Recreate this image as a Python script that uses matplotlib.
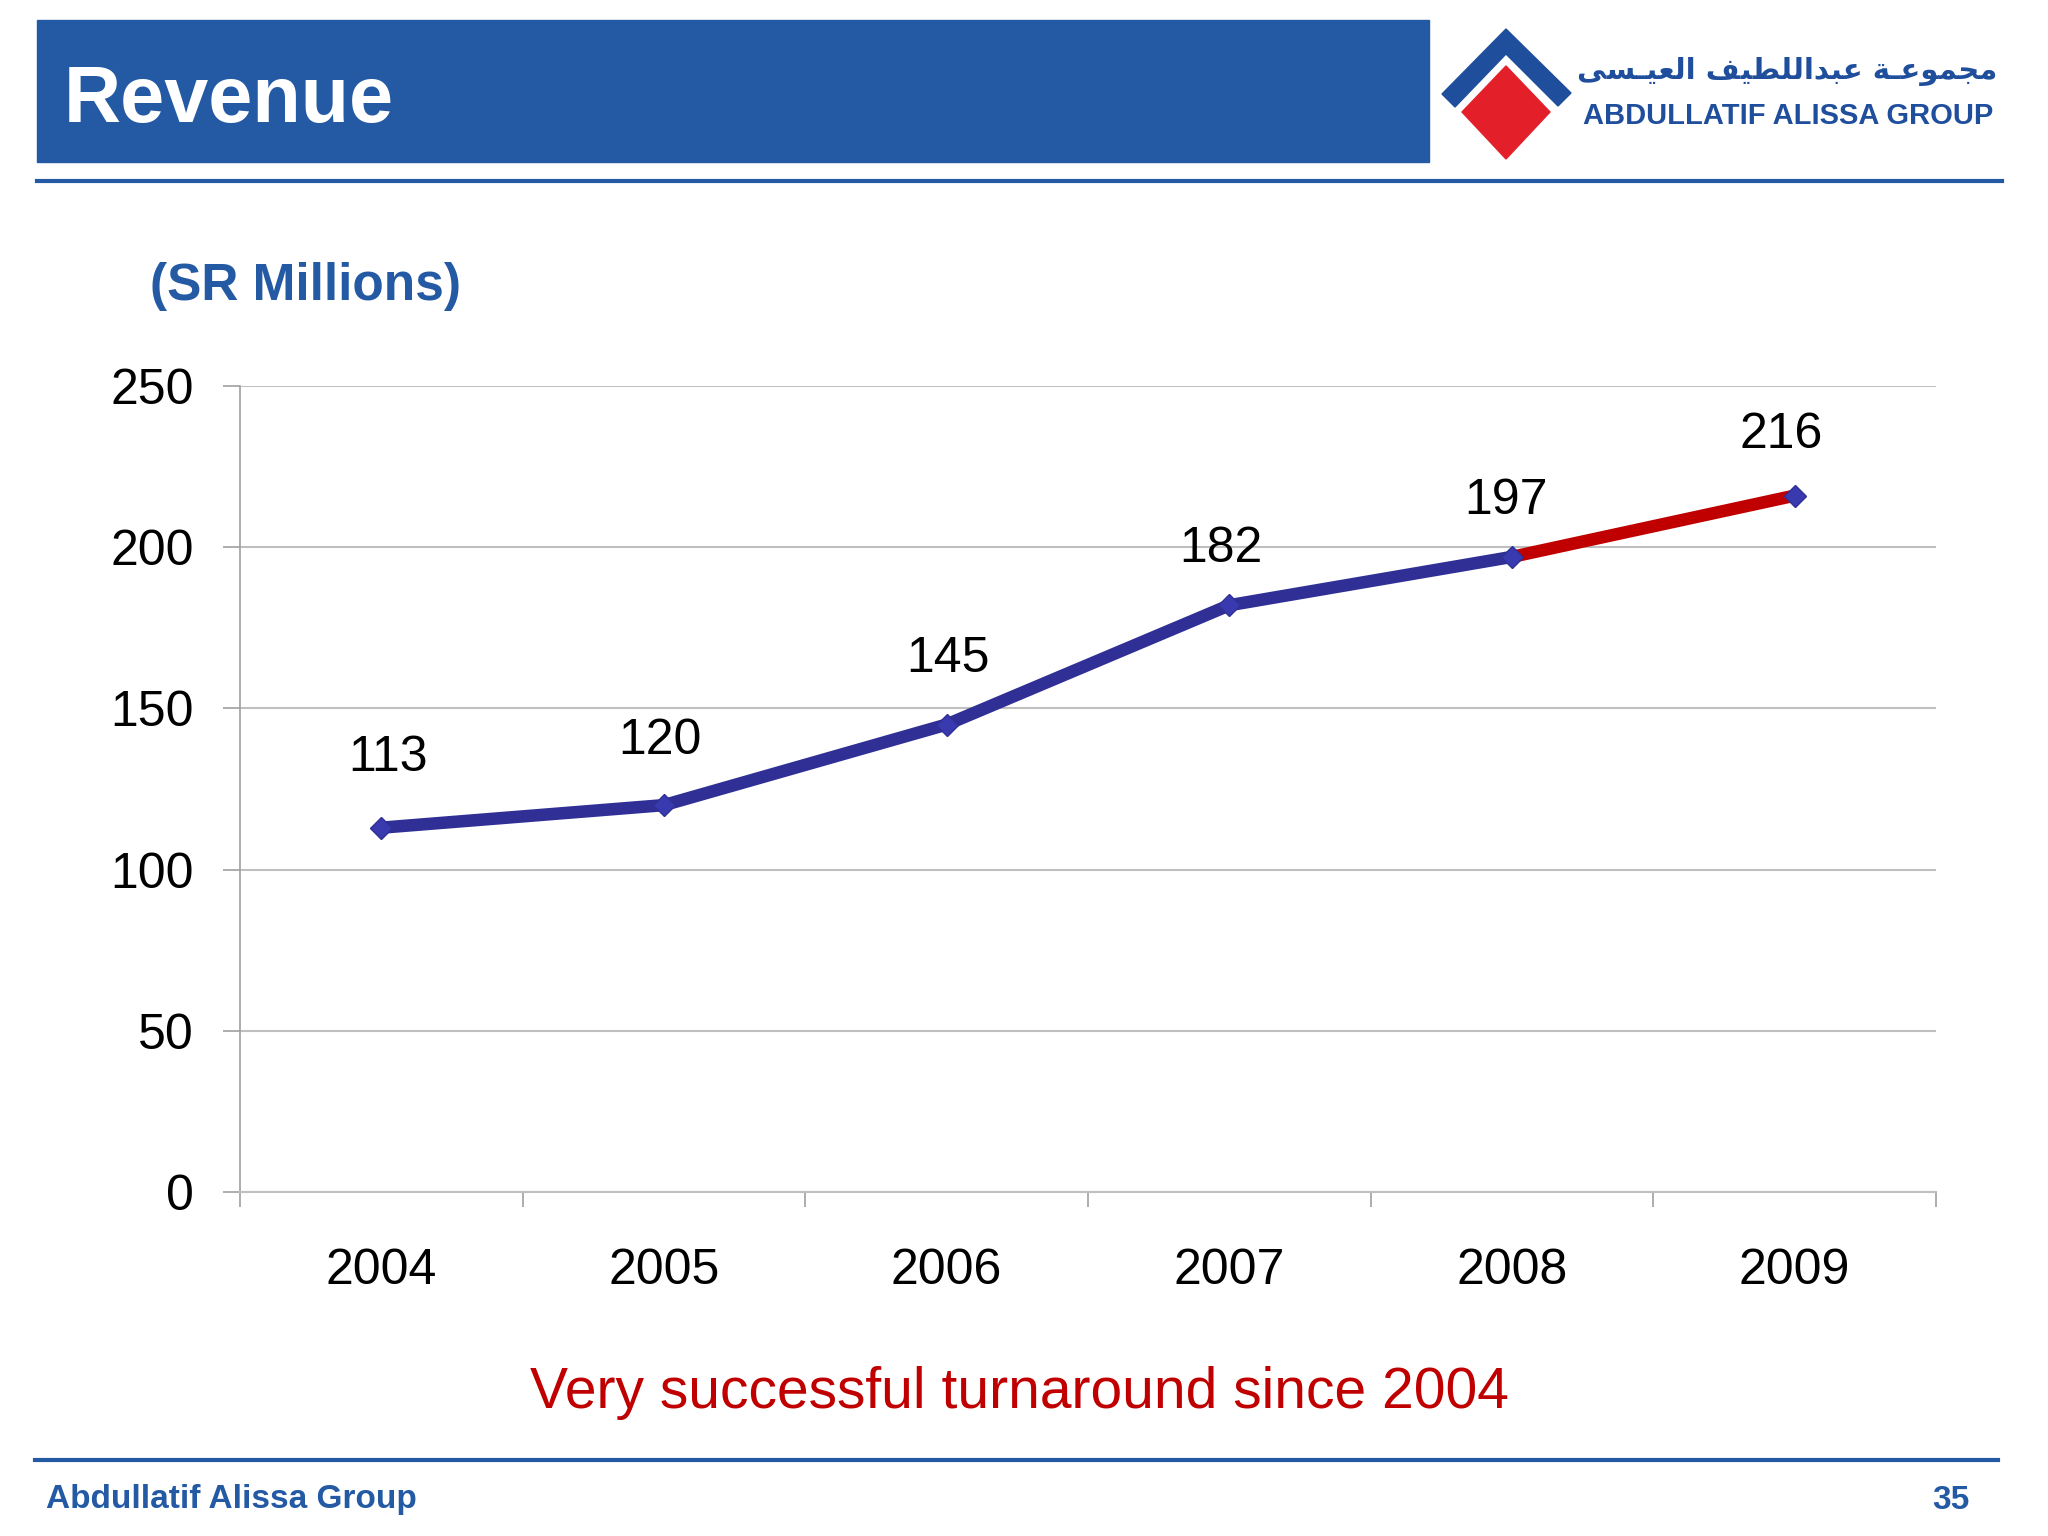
import matplotlib
matplotlib.use("Agg")
import matplotlib.pyplot as plt
from matplotlib.patches import Rectangle, Polygon
from matplotlib.lines import Line2D

# data
years = ['2004', '2005', '2006', '2007', '2008', '2009']
revenue = [113, 120, 145, 182, 197, 216]
y_ticks = [0, 50, 100, 150, 200, 250]

title = 'Revenue'
unit_label = '(SR Millions)'
note = 'Very successful turnaround since 2004'
footer = 'Abdullatif Alissa Group'
page_no = '35'
logo_en = 'ABDULLATIF ALISSA GROUP'
# Arabic name, written with presentation forms in logical order
logo_ar_logical = ('\uFEE3\uFEA0\uFEE4\uFEEE\uFECB\u0640\uFE94 '
                   '\uFECB\uFE92\uFEAA\uFE8D\uFEDF\uFEE0\uFEC4\uFEF4\uFED2 '
                   '\uFE8D\uFEDF\uFECC\uFEF4\u0640\uFEB4\uFEF0')

# label placement (points), the way the slide had them
label_dx = [5, -3, 1, -6, -4, -10]
label_dy = [41, 37, 38, 31, 31, 34]

BLUE = '#2459A4'
LINE_BLUE = '#2F2F96'
RED = '#C00000'
GRID = '#BFBFBF'

plt.rcParams['font.family'] = ['Liberation Sans', 'DejaVu Sans']

W, H = 2048, 1536
fig = plt.figure(figsize=(20.48, 15.36), dpi=100)
fig.patch.set_facecolor('white')


def px(x, y):
    return (x / W, 1 - y / H)


# header bar
x0, y0 = px(37, 162)
fig.patches.append(Rectangle((x0, y0), (1429 - 37) / W, (162 - 20) / H,
                             transform=fig.transFigure, color=BLUE, zorder=0))
fig.text(*px(64, 122), title, color='white', fontsize=57, fontweight='bold',
         ha='left', va='baseline')
fig.add_artist(Line2D([37 / W, 2002 / W], [1 - 181 / H] * 2, color=BLUE, lw=3,
                      transform=fig.transFigure))

# logo
chev = [(1442, 94), (1506, 29), (1571, 93), (1558, 106), (1506, 54), (1455, 107)]
fig.patches.append(Polygon([px(*p) for p in chev], closed=True, transform=fig.transFigure,
                           color='#1F4E9C'))
diam = [(1506, 66), (1550, 112), (1506, 159), (1462, 112)]
fig.patches.append(Polygon([px(*p) for p in diam], closed=True, transform=fig.transFigure,
                           color='#E3202A'))
fig.text(*px(1583, 124), logo_en, color='#1F4E9C', fontsize=21, fontweight='bold',
         ha='left', va='baseline')
fig.text(*px(1787, 72), logo_ar_logical[::-1], color='#1F4E9C', fontsize=21,
         fontweight='bold', family=['DejaVu Sans'], ha='center', va='center')

# unit label
fig.text(*px(150, 300), unit_label, color=BLUE, fontsize=37, fontweight='bold',
         ha='left', va='baseline')

# chart
ax = fig.add_axes([240 / W, 1 - 1192 / H, (1936 - 240) / W, (1192 - 386) / H])
x = list(range(len(years)))
ax.plot(x[:5], revenue[:5], color=LINE_BLUE, lw=9, solid_capstyle='round', zorder=3)
ax.plot(x[4:], revenue[4:], color=RED, lw=9, solid_capstyle='butt', zorder=3)
ax.plot(x, revenue, ls='none', marker='D', ms=11, color='#3A3AB0',
        markeredgecolor=LINE_BLUE, zorder=4)

for xi, v, dx, dy in zip(x, revenue, label_dx, label_dy):
    ax.annotate(str(v), (xi, v), xytext=(dx, dy), textcoords='offset points',
                ha='center', va='baseline', fontsize=36, color='black')

ax.set_xlim(-0.5, len(years) - 0.5)
ax.set_ylim(0, 250)
ax.set_yticks(y_ticks)
ax.set_yticklabels([str(t) for t in y_ticks])
ax.set_xticks(x)
ax.set_xticklabels(years)
ax.set_xticks([i - 0.5 for i in range(len(years) + 1)], minor=True)

ax.tick_params(axis='y', length=12, width=1.2, color='#A0A0A0', pad=21, labelsize=36,
               direction='out')
ax.tick_params(axis='x', which='major', length=0, pad=40, labelsize=36)
ax.tick_params(axis='x', which='minor', length=11, width=1.2, color='#A0A0A0',
               direction='out')
ax.grid(axis='y', color=GRID, lw=1.5)
ax.set_axisbelow(True)
for s in ['top', 'right']:
    ax.spines[s].set_visible(False)
ax.spines['left'].set_color('#A0A0A0')
ax.spines['left'].set_linewidth(1.2)
ax.spines['bottom'].set_color(GRID)
ax.spines['bottom'].set_linewidth(1.5)

# note and footer
fig.text(*px(1019, 1408), note, color=RED, fontsize=41, ha='center', va='baseline')
fig.add_artist(Line2D([35 / W, 1998 / W], [1 - 1460 / H] * 2, color=BLUE, lw=3,
                      transform=fig.transFigure))
fig.text(*px(46, 1508), footer, color=BLUE, fontsize=24, fontweight='bold',
         ha='left', va='baseline')
fig.text(*px(1969, 1509), page_no, color=BLUE, fontsize=24, fontweight='bold',
         ha='right', va='baseline')

fig.savefig('out.png', dpi=100)
